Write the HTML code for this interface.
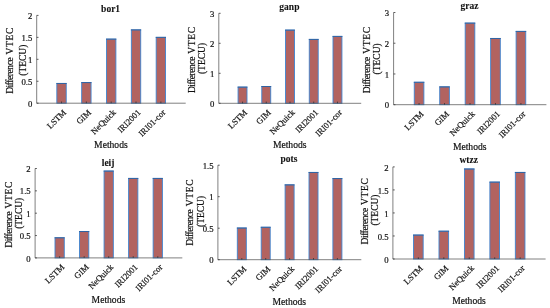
<!DOCTYPE html><html><head><meta charset="utf-8"><style>html,body{margin:0;padding:0;background:#fff}svg{display:block}text{font-family:"Liberation Serif",serif;fill:#111;stroke:#111;stroke-width:0.2px}</style></head><body>
<svg width="550" height="308" viewBox="0 0 550 308">
<rect width="550" height="308" fill="#fff"/>
<g><rect x="56.84" y="83.45" width="9.38" height="19.75" fill="#B26360" stroke="#3F84D0" stroke-width="0.9"/><path d="M56.39 83.45h10.28" stroke="#2E5F9C" stroke-width="0.9"/><rect x="81.68" y="82.57" width="9.38" height="20.63" fill="#B26360" stroke="#3F84D0" stroke-width="0.9"/><path d="M81.23 82.57h10.28" stroke="#2E5F9C" stroke-width="0.9"/><rect x="106.51" y="39.11" width="9.38" height="64.09" fill="#B26360" stroke="#3F84D0" stroke-width="0.9"/><path d="M106.06 39.11h10.28" stroke="#2E5F9C" stroke-width="0.9"/><rect x="131.34" y="29.89" width="9.38" height="73.31" fill="#B26360" stroke="#3F84D0" stroke-width="0.9"/><path d="M130.89 29.89h10.28" stroke="#2E5F9C" stroke-width="0.9"/><rect x="156.18" y="37.35" width="9.38" height="65.85" fill="#B26360" stroke="#3F84D0" stroke-width="0.9"/><path d="M155.73 37.35h10.28" stroke="#2E5F9C" stroke-width="0.9"/><path d="M36.70 15.40V103.20H185.70" fill="none" stroke="#555" stroke-width="0.75"/><path d="M36.70 103.20h1.8" stroke="#333" stroke-width="0.8"/><text x="32.30" y="106.80" font-size="8.7" text-anchor="end">0</text><path d="M36.70 81.25h1.8" stroke="#333" stroke-width="0.8"/><text x="32.30" y="84.85" font-size="8.7" text-anchor="end">0.5</text><path d="M36.70 59.30h1.8" stroke="#333" stroke-width="0.8"/><text x="32.30" y="62.90" font-size="8.7" text-anchor="end">1</text><path d="M36.70 37.35h1.8" stroke="#333" stroke-width="0.8"/><text x="32.30" y="40.95" font-size="8.7" text-anchor="end">1.5</text><path d="M36.70 15.40h1.8" stroke="#333" stroke-width="0.8"/><text x="32.30" y="19.00" font-size="8.7" text-anchor="end">2</text><path d="M61.53 103.20v-1.7" stroke="#333" stroke-width="0.8"/><text transform="translate(62.03 108.30) rotate(-45)" x="0" y="6.6" font-size="8.6" text-anchor="end">LSTM</text><path d="M86.37 103.20v-1.7" stroke="#333" stroke-width="0.8"/><text transform="translate(86.87 108.30) rotate(-45)" x="0" y="6.6" font-size="8.6" text-anchor="end">GIM</text><path d="M111.20 103.20v-1.7" stroke="#333" stroke-width="0.8"/><text transform="translate(111.70 108.30) rotate(-45)" x="0" y="6.6" font-size="8.6" text-anchor="end">NeQuick</text><path d="M136.03 103.20v-1.7" stroke="#333" stroke-width="0.8"/><text transform="translate(136.53 108.30) rotate(-45)" x="0" y="6.6" font-size="8.6" text-anchor="end">IRI2001</text><path d="M160.87 103.20v-1.7" stroke="#333" stroke-width="0.8"/><text transform="translate(161.37 108.30) rotate(-45)" x="0" y="6.6" font-size="8.6" text-anchor="end">IRI01-cor</text><text x="110.90" y="148.20" font-size="9.6" text-anchor="middle">Methods</text><text x="110.60" y="12.00" font-size="9.5" font-weight="bold" style="stroke-width:0.08px" text-anchor="middle">bor1</text><text transform="translate(13.40 60.75) rotate(-90)" font-size="9.5"><tspan x="-33.1" textLength="36.5" lengthAdjust="spacing">Difference</tspan><tspan x="6.3" textLength="26.8" lengthAdjust="spacing">VTEC</tspan></text><text transform="translate(25.60 60.20) rotate(-90)" font-size="9.5" text-anchor="middle">(TECU)</text></g>
<g><rect x="238.06" y="87.10" width="8.94" height="16.20" fill="#B26360" stroke="#3F84D0" stroke-width="0.9"/><path d="M237.61 87.10h9.84" stroke="#2E5F9C" stroke-width="0.9"/><rect x="261.79" y="86.50" width="8.94" height="16.80" fill="#B26360" stroke="#3F84D0" stroke-width="0.9"/><path d="M261.34 86.50h9.84" stroke="#2E5F9C" stroke-width="0.9"/><rect x="285.53" y="30.10" width="8.94" height="73.20" fill="#B26360" stroke="#3F84D0" stroke-width="0.9"/><path d="M285.08 30.10h9.84" stroke="#2E5F9C" stroke-width="0.9"/><rect x="309.26" y="39.40" width="8.94" height="63.90" fill="#B26360" stroke="#3F84D0" stroke-width="0.9"/><path d="M308.81 39.40h9.84" stroke="#2E5F9C" stroke-width="0.9"/><rect x="333.00" y="36.40" width="8.94" height="66.90" fill="#B26360" stroke="#3F84D0" stroke-width="0.9"/><path d="M332.55 36.40h9.84" stroke="#2E5F9C" stroke-width="0.9"/><path d="M218.80 13.30V103.30H361.20" fill="none" stroke="#555" stroke-width="0.75"/><path d="M218.80 103.30h1.8" stroke="#333" stroke-width="0.8"/><text x="214.40" y="106.90" font-size="8.7" text-anchor="end">0</text><path d="M218.80 73.30h1.8" stroke="#333" stroke-width="0.8"/><text x="214.40" y="76.90" font-size="8.7" text-anchor="end">1</text><path d="M218.80 43.30h1.8" stroke="#333" stroke-width="0.8"/><text x="214.40" y="46.90" font-size="8.7" text-anchor="end">2</text><path d="M218.80 13.30h1.8" stroke="#333" stroke-width="0.8"/><text x="214.40" y="16.90" font-size="8.7" text-anchor="end">3</text><path d="M242.53 103.30v-1.7" stroke="#333" stroke-width="0.8"/><text transform="translate(243.03 108.40) rotate(-45)" x="0" y="6.6" font-size="8.6" text-anchor="end">LSTM</text><path d="M266.27 103.30v-1.7" stroke="#333" stroke-width="0.8"/><text transform="translate(266.77 108.40) rotate(-45)" x="0" y="6.6" font-size="8.6" text-anchor="end">GIM</text><path d="M290.00 103.30v-1.7" stroke="#333" stroke-width="0.8"/><text transform="translate(290.50 108.40) rotate(-45)" x="0" y="6.6" font-size="8.6" text-anchor="end">NeQuick</text><path d="M313.73 103.30v-1.7" stroke="#333" stroke-width="0.8"/><text transform="translate(314.23 108.40) rotate(-45)" x="0" y="6.6" font-size="8.6" text-anchor="end">IRI2001</text><path d="M337.47 103.30v-1.7" stroke="#333" stroke-width="0.8"/><text transform="translate(337.97 108.40) rotate(-45)" x="0" y="6.6" font-size="8.6" text-anchor="end">IRI01-cor</text><text x="289.70" y="148.30" font-size="9.6" text-anchor="middle">Methods</text><text x="289.40" y="9.90" font-size="9.5" font-weight="bold" style="stroke-width:0.08px" text-anchor="middle">ganp</text><text transform="translate(194.60 60.00) rotate(-90)" font-size="9.5"><tspan x="-33.1" textLength="36.5" lengthAdjust="spacing">Difference</tspan><tspan x="6.3" textLength="26.8" lengthAdjust="spacing">VTEC</tspan></text><text transform="translate(205.40 58.50) rotate(-90)" font-size="9.5" text-anchor="middle">(TECU)</text></g>
<g><rect x="414.25" y="82.26" width="9.64" height="22.44" fill="#B26360" stroke="#3F84D0" stroke-width="0.9"/><path d="M413.80 82.26h10.54" stroke="#2E5F9C" stroke-width="0.9"/><rect x="439.72" y="86.87" width="9.64" height="17.83" fill="#B26360" stroke="#3F84D0" stroke-width="0.9"/><path d="M439.27 86.87h10.54" stroke="#2E5F9C" stroke-width="0.9"/><rect x="465.18" y="23.10" width="9.64" height="81.60" fill="#B26360" stroke="#3F84D0" stroke-width="0.9"/><path d="M464.73 23.10h10.54" stroke="#2E5F9C" stroke-width="0.9"/><rect x="490.65" y="38.47" width="9.64" height="66.23" fill="#B26360" stroke="#3F84D0" stroke-width="0.9"/><path d="M490.20 38.47h10.54" stroke="#2E5F9C" stroke-width="0.9"/><rect x="516.11" y="31.40" width="9.64" height="73.30" fill="#B26360" stroke="#3F84D0" stroke-width="0.9"/><path d="M515.66 31.40h10.54" stroke="#2E5F9C" stroke-width="0.9"/><path d="M393.60 12.50V104.70H546.40" fill="none" stroke="#555" stroke-width="0.75"/><path d="M393.60 104.70h1.8" stroke="#333" stroke-width="0.8"/><text x="389.20" y="108.30" font-size="8.7" text-anchor="end">0</text><path d="M393.60 73.97h1.8" stroke="#333" stroke-width="0.8"/><text x="389.20" y="77.57" font-size="8.7" text-anchor="end">1</text><path d="M393.60 43.23h1.8" stroke="#333" stroke-width="0.8"/><text x="389.20" y="46.83" font-size="8.7" text-anchor="end">2</text><path d="M393.60 12.50h1.8" stroke="#333" stroke-width="0.8"/><text x="389.20" y="16.10" font-size="8.7" text-anchor="end">3</text><path d="M419.07 104.70v-1.7" stroke="#333" stroke-width="0.8"/><text transform="translate(419.57 109.80) rotate(-45)" x="0" y="6.6" font-size="8.6" text-anchor="end">LSTM</text><path d="M444.53 104.70v-1.7" stroke="#333" stroke-width="0.8"/><text transform="translate(445.03 109.80) rotate(-45)" x="0" y="6.6" font-size="8.6" text-anchor="end">GIM</text><path d="M470.00 104.70v-1.7" stroke="#333" stroke-width="0.8"/><text transform="translate(470.50 109.80) rotate(-45)" x="0" y="6.6" font-size="8.6" text-anchor="end">NeQuick</text><path d="M495.47 104.70v-1.7" stroke="#333" stroke-width="0.8"/><text transform="translate(495.97 109.80) rotate(-45)" x="0" y="6.6" font-size="8.6" text-anchor="end">IRI2001</text><path d="M520.93 104.70v-1.7" stroke="#333" stroke-width="0.8"/><text transform="translate(521.43 109.80) rotate(-45)" x="0" y="6.6" font-size="8.6" text-anchor="end">IRI01-cor</text><text x="469.70" y="149.70" font-size="9.6" text-anchor="middle">Methods</text><text x="469.40" y="9.10" font-size="9.5" font-weight="bold" style="stroke-width:0.08px" text-anchor="middle">graz</text><text transform="translate(369.60 60.10) rotate(-90)" font-size="9.5"><tspan x="-33.1" textLength="36.5" lengthAdjust="spacing">Difference</tspan><tspan x="6.3" textLength="26.8" lengthAdjust="spacing">VTEC</tspan></text><text transform="translate(380.40 58.90) rotate(-90)" font-size="9.5" text-anchor="middle">(TECU)</text></g>
<g><rect x="55.00" y="237.78" width="9.26" height="20.12" fill="#B26360" stroke="#3F84D0" stroke-width="0.9"/><path d="M54.55 237.78h10.16" stroke="#2E5F9C" stroke-width="0.9"/><rect x="79.54" y="231.53" width="9.26" height="26.37" fill="#B26360" stroke="#3F84D0" stroke-width="0.9"/><path d="M79.09 231.53h10.16" stroke="#2E5F9C" stroke-width="0.9"/><rect x="104.07" y="171.05" width="9.26" height="86.85" fill="#B26360" stroke="#3F84D0" stroke-width="0.9"/><path d="M103.62 171.05h10.16" stroke="#2E5F9C" stroke-width="0.9"/><rect x="128.60" y="178.42" width="9.26" height="79.48" fill="#B26360" stroke="#3F84D0" stroke-width="0.9"/><path d="M128.15 178.42h10.16" stroke="#2E5F9C" stroke-width="0.9"/><rect x="153.14" y="178.42" width="9.26" height="79.48" fill="#B26360" stroke="#3F84D0" stroke-width="0.9"/><path d="M152.69 178.42h10.16" stroke="#2E5F9C" stroke-width="0.9"/><path d="M35.10 168.50V257.90H182.30" fill="none" stroke="#555" stroke-width="0.75"/><path d="M35.10 257.90h1.8" stroke="#333" stroke-width="0.8"/><text x="30.70" y="261.50" font-size="8.7" text-anchor="end">0</text><path d="M35.10 235.55h1.8" stroke="#333" stroke-width="0.8"/><text x="30.70" y="239.15" font-size="8.7" text-anchor="end">0.5</text><path d="M35.10 213.20h1.8" stroke="#333" stroke-width="0.8"/><text x="30.70" y="216.80" font-size="8.7" text-anchor="end">1</text><path d="M35.10 190.85h1.8" stroke="#333" stroke-width="0.8"/><text x="30.70" y="194.45" font-size="8.7" text-anchor="end">1.5</text><path d="M35.10 168.50h1.8" stroke="#333" stroke-width="0.8"/><text x="30.70" y="172.10" font-size="8.7" text-anchor="end">2</text><path d="M59.63 257.90v-1.7" stroke="#333" stroke-width="0.8"/><text transform="translate(60.13 263.00) rotate(-45)" x="0" y="6.6" font-size="8.6" text-anchor="end">LSTM</text><path d="M84.17 257.90v-1.7" stroke="#333" stroke-width="0.8"/><text transform="translate(84.67 263.00) rotate(-45)" x="0" y="6.6" font-size="8.6" text-anchor="end">GIM</text><path d="M108.70 257.90v-1.7" stroke="#333" stroke-width="0.8"/><text transform="translate(109.20 263.00) rotate(-45)" x="0" y="6.6" font-size="8.6" text-anchor="end">NeQuick</text><path d="M133.23 257.90v-1.7" stroke="#333" stroke-width="0.8"/><text transform="translate(133.73 263.00) rotate(-45)" x="0" y="6.6" font-size="8.6" text-anchor="end">IRI2001</text><path d="M157.77 257.90v-1.7" stroke="#333" stroke-width="0.8"/><text transform="translate(158.27 263.00) rotate(-45)" x="0" y="6.6" font-size="8.6" text-anchor="end">IRI01-cor</text><text x="108.40" y="302.90" font-size="9.6" text-anchor="middle">Methods</text><text x="108.10" y="165.70" font-size="9.5" font-weight="bold" style="stroke-width:0.08px" text-anchor="middle">leij</text><text transform="translate(11.50 214.70) rotate(-90)" font-size="9.5"><tspan x="-33.1" textLength="36.5" lengthAdjust="spacing">Difference</tspan><tspan x="6.3" textLength="26.8" lengthAdjust="spacing">VTEC</tspan></text><text transform="translate(21.90 213.30) rotate(-90)" font-size="9.5" text-anchor="middle">(TECU)</text></g>
<g><rect x="237.30" y="228.01" width="9.01" height="31.69" fill="#B26360" stroke="#3F84D0" stroke-width="0.9"/><path d="M236.85 228.01h9.91" stroke="#2E5F9C" stroke-width="0.9"/><rect x="261.19" y="227.25" width="9.01" height="32.44" fill="#B26360" stroke="#3F84D0" stroke-width="0.9"/><path d="M260.75 227.25h9.91" stroke="#2E5F9C" stroke-width="0.9"/><rect x="285.10" y="184.86" width="9.01" height="74.84" fill="#B26360" stroke="#3F84D0" stroke-width="0.9"/><path d="M284.65 184.86h9.91" stroke="#2E5F9C" stroke-width="0.9"/><rect x="309.00" y="172.44" width="9.01" height="87.25" fill="#B26360" stroke="#3F84D0" stroke-width="0.9"/><path d="M308.55 172.44h9.91" stroke="#2E5F9C" stroke-width="0.9"/><rect x="332.90" y="178.56" width="9.01" height="81.14" fill="#B26360" stroke="#3F84D0" stroke-width="0.9"/><path d="M332.45 178.56h9.91" stroke="#2E5F9C" stroke-width="0.9"/><path d="M217.90 165.20V259.70H361.30" fill="none" stroke="#555" stroke-width="0.75"/><path d="M217.90 259.70h1.8" stroke="#333" stroke-width="0.8"/><text x="213.50" y="263.30" font-size="8.7" text-anchor="end">0</text><path d="M217.90 228.20h1.8" stroke="#333" stroke-width="0.8"/><text x="213.50" y="231.80" font-size="8.7" text-anchor="end">0.5</text><path d="M217.90 196.70h1.8" stroke="#333" stroke-width="0.8"/><text x="213.50" y="200.30" font-size="8.7" text-anchor="end">1</text><path d="M217.90 165.20h1.8" stroke="#333" stroke-width="0.8"/><text x="213.50" y="168.80" font-size="8.7" text-anchor="end">1.5</text><path d="M241.80 259.70v-1.7" stroke="#333" stroke-width="0.8"/><text transform="translate(242.30 264.80) rotate(-45)" x="0" y="6.6" font-size="8.6" text-anchor="end">LSTM</text><path d="M265.70 259.70v-1.7" stroke="#333" stroke-width="0.8"/><text transform="translate(266.20 264.80) rotate(-45)" x="0" y="6.6" font-size="8.6" text-anchor="end">GIM</text><path d="M289.60 259.70v-1.7" stroke="#333" stroke-width="0.8"/><text transform="translate(290.10 264.80) rotate(-45)" x="0" y="6.6" font-size="8.6" text-anchor="end">NeQuick</text><path d="M313.50 259.70v-1.7" stroke="#333" stroke-width="0.8"/><text transform="translate(314.00 264.80) rotate(-45)" x="0" y="6.6" font-size="8.6" text-anchor="end">IRI2001</text><path d="M337.40 259.70v-1.7" stroke="#333" stroke-width="0.8"/><text transform="translate(337.90 264.80) rotate(-45)" x="0" y="6.6" font-size="8.6" text-anchor="end">IRI01-cor</text><text x="289.30" y="304.70" font-size="9.6" text-anchor="middle">Methods</text><text x="289.00" y="161.50" font-size="9.5" font-weight="bold" style="stroke-width:0.08px" text-anchor="middle">pots</text><text transform="translate(193.40 212.60) rotate(-90)" font-size="9.5"><tspan x="-33.1" textLength="36.5" lengthAdjust="spacing">Difference</tspan><tspan x="6.3" textLength="26.8" lengthAdjust="spacing">VTEC</tspan></text><text transform="translate(203.80 211.45) rotate(-90)" font-size="9.5" text-anchor="middle">(TECU)</text></g>
<g><rect x="413.53" y="235.05" width="9.63" height="23.95" fill="#B26360" stroke="#3F84D0" stroke-width="0.9"/><path d="M413.08 235.05h10.53" stroke="#2E5F9C" stroke-width="0.9"/><rect x="438.99" y="231.19" width="9.63" height="27.81" fill="#B26360" stroke="#3F84D0" stroke-width="0.9"/><path d="M438.54 231.19h10.53" stroke="#2E5F9C" stroke-width="0.9"/><rect x="464.44" y="168.97" width="9.63" height="90.03" fill="#B26360" stroke="#3F84D0" stroke-width="0.9"/><path d="M463.99 168.97h10.53" stroke="#2E5F9C" stroke-width="0.9"/><rect x="489.88" y="182.10" width="9.63" height="76.90" fill="#B26360" stroke="#3F84D0" stroke-width="0.9"/><path d="M489.44 182.10h10.53" stroke="#2E5F9C" stroke-width="0.9"/><rect x="515.33" y="172.43" width="9.63" height="86.57" fill="#B26360" stroke="#3F84D0" stroke-width="0.9"/><path d="M514.88 172.43h10.53" stroke="#2E5F9C" stroke-width="0.9"/><path d="M392.90 166.90V259.00H545.60" fill="none" stroke="#555" stroke-width="0.75"/><path d="M392.90 259.00h1.8" stroke="#333" stroke-width="0.8"/><text x="388.50" y="262.60" font-size="8.7" text-anchor="end">0</text><path d="M392.90 235.97h1.8" stroke="#333" stroke-width="0.8"/><text x="388.50" y="239.57" font-size="8.7" text-anchor="end">0.5</text><path d="M392.90 212.95h1.8" stroke="#333" stroke-width="0.8"/><text x="388.50" y="216.55" font-size="8.7" text-anchor="end">1</text><path d="M392.90 189.93h1.8" stroke="#333" stroke-width="0.8"/><text x="388.50" y="193.53" font-size="8.7" text-anchor="end">1.5</text><path d="M392.90 166.90h1.8" stroke="#333" stroke-width="0.8"/><text x="388.50" y="170.50" font-size="8.7" text-anchor="end">2</text><path d="M418.35 259.00v-1.7" stroke="#333" stroke-width="0.8"/><text transform="translate(418.85 264.10) rotate(-45)" x="0" y="6.6" font-size="8.6" text-anchor="end">LSTM</text><path d="M443.80 259.00v-1.7" stroke="#333" stroke-width="0.8"/><text transform="translate(444.30 264.10) rotate(-45)" x="0" y="6.6" font-size="8.6" text-anchor="end">GIM</text><path d="M469.25 259.00v-1.7" stroke="#333" stroke-width="0.8"/><text transform="translate(469.75 264.10) rotate(-45)" x="0" y="6.6" font-size="8.6" text-anchor="end">NeQuick</text><path d="M494.70 259.00v-1.7" stroke="#333" stroke-width="0.8"/><text transform="translate(495.20 264.10) rotate(-45)" x="0" y="6.6" font-size="8.6" text-anchor="end">IRI2001</text><path d="M520.15 259.00v-1.7" stroke="#333" stroke-width="0.8"/><text transform="translate(520.65 264.10) rotate(-45)" x="0" y="6.6" font-size="8.6" text-anchor="end">IRI01-cor</text><text x="468.95" y="304.00" font-size="9.6" text-anchor="middle">Methods</text><text x="468.65" y="162.50" font-size="9.5" font-weight="bold" style="stroke-width:0.08px" text-anchor="middle">wtzz</text><text transform="translate(368.00 211.30) rotate(-90)" font-size="9.5"><tspan x="-33.1" textLength="36.5" lengthAdjust="spacing">Difference</tspan><tspan x="6.3" textLength="26.8" lengthAdjust="spacing">VTEC</tspan></text><text transform="translate(378.20 210.05) rotate(-90)" font-size="9.5" text-anchor="middle">(TECU)</text></g>
</svg></body></html>
